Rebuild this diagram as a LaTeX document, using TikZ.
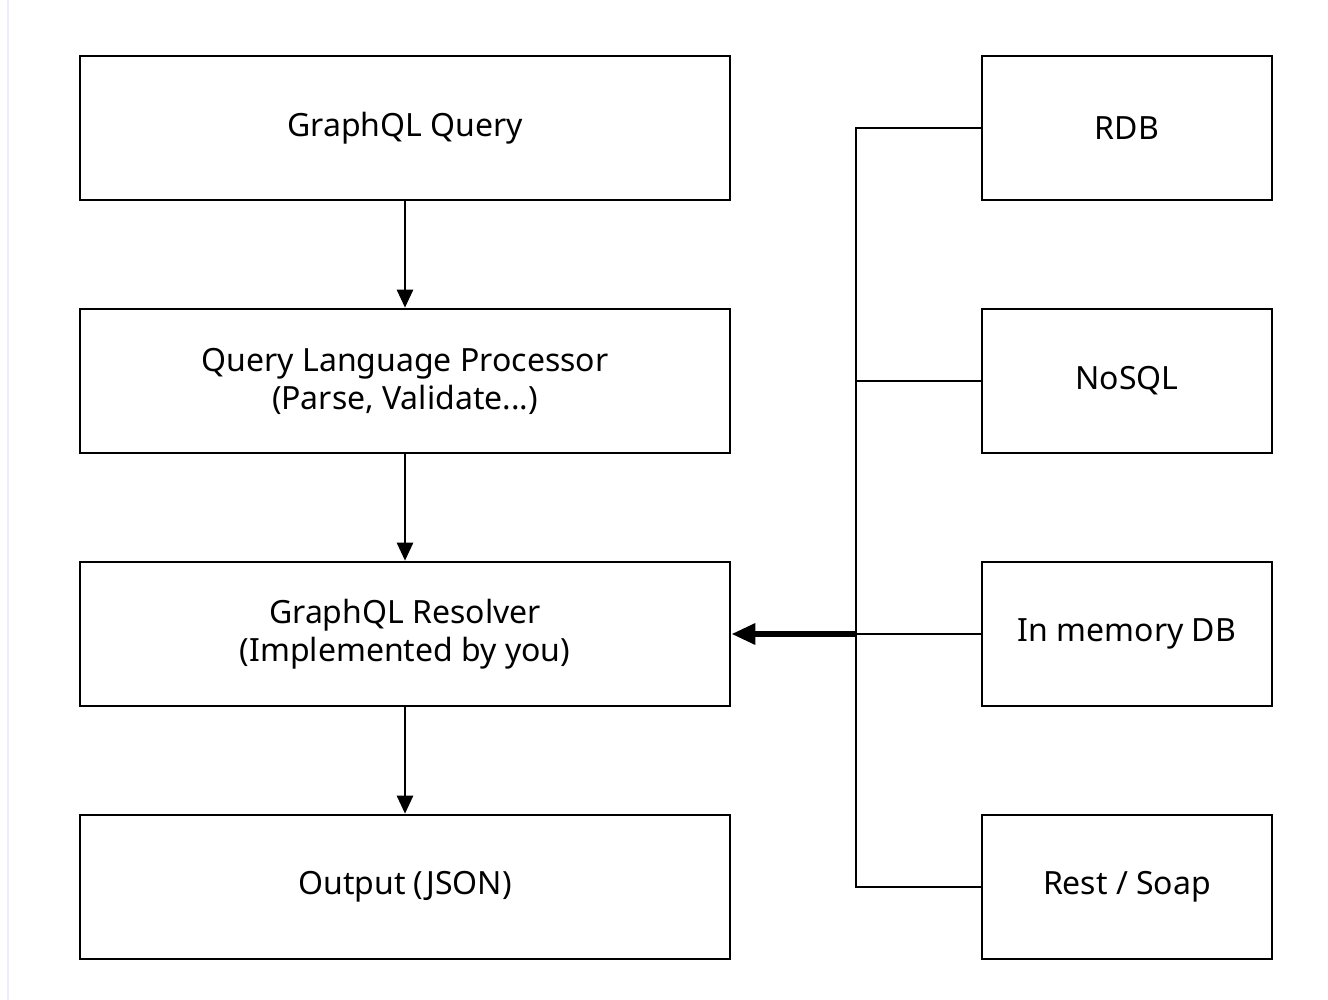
\documentclass[tikz,border=0pt]{standalone}
\usepackage{fontspec}
\setmainfont{Noto Sans}
\usetikzlibrary{arrows.meta}
\tikzset{
  box/.style={draw, line width=1.3pt, minimum width=325pt, minimum height=72pt, align=center, font=\fontsize{16}{19}\selectfont},
  src/.style={draw, line width=1.3pt, minimum width=145pt, minimum height=72pt, align=center, font=\fontsize{16}{19}\selectfont},
  flow/.style={line width=1.3pt, -{Triangle[length=9pt,width=8pt]}},
  link/.style={line width=1.3pt}
}
\begin{document}
\begin{tikzpicture}[x=0.5pt,y=-0.5pt]
\useasboundingbox (0,0) rectangle (1328,1000);
\draw[blue!8, line width=1pt] (8,0) -- (8,1000);
% Left column
\node[box] (query) at (405,128) {GraphQL Query};
\node[box] (proc) at (405,381) {Query Language Processor\\(Parse, Validate...)};
\node[box] (resolver) at (405,634) {GraphQL Resolver\\(Implemented by you)};
\node[box] (output) at (405,887) {Output (JSON)};
% Right column
\node[src] (rdb) at (1127,128) {RDB};
\node[src] (nosql) at (1127,381) {NoSQL};
\node[src] (mem) at (1127,634) {In memory DB};
\node[src] (rest) at (1127,887) {Rest / Soap};
% Bus
\coordinate (bustop) at (856,128);
\coordinate (busbot) at (856,887);
\coordinate (busmid) at (856,634);
\draw[flow] (query) -- (proc);
\draw[flow] (proc) -- (resolver);
\draw[flow] (resolver) -- (output);
\draw[link] (rdb.west) -- (bustop) -- (busbot) -- (rest.west);
\draw[link] (nosql.west) -- (nosql.west -| bustop);
\draw[link] (mem.west) -- (busmid);
\draw[line width=3pt, -{Triangle[length=12pt,width=10pt]}] (busmid) -- (resolver.east);
\end{tikzpicture}
\end{document}
